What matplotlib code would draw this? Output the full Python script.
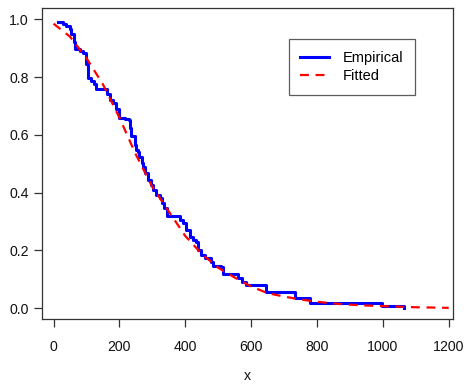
import matplotlib
matplotlib.use("Agg")
import matplotlib.pyplot as plt

plt.rcParams['font.family'] = ['Liberation Sans', 'DejaVu Sans']

# empirical survival (step function, value holds from each time on)
emp_x = [13, 28, 38, 51, 54, 62, 64, 79, 89, 99, 104, 115, 122, 130, 163, 170,
         180, 190, 200, 216, 228, 231, 236, 246, 251, 256, 261, 268, 271, 277,
         287, 297, 302, 312, 322, 328, 335, 345, 383, 393, 403, 413, 423, 434,
         439, 449, 459, 479, 484, 510, 515, 560, 573, 586, 646, 733, 778, 999,
         1064]
emp_y = [0.99, 0.985, 0.977, 0.968, 0.948, 0.921, 0.896, 0.89, 0.884, 0.844,
         0.797, 0.786, 0.775, 0.76, 0.74, 0.722, 0.71, 0.688, 0.66, 0.655, 0.65,
         0.624, 0.595, 0.566, 0.549, 0.54, 0.525, 0.502, 0.49, 0.468, 0.444,
         0.427, 0.41, 0.392, 0.381, 0.365, 0.345, 0.318, 0.306, 0.294, 0.271,
         0.248, 0.236, 0.23, 0.2, 0.184, 0.172, 0.161, 0.146, 0.143, 0.118,
         0.103, 0.091, 0.08, 0.055, 0.035, 0.018, 0.009, 0.0]

# fitted curve
fit_x = [0, 50, 100, 150, 200, 250, 300, 350, 400, 450, 500, 550, 600, 650,
         700, 750, 800, 850, 900, 950, 1000, 1050, 1100, 1150, 1200]
fit_y = [0.985, 0.94, 0.866, 0.775, 0.66, 0.532, 0.42, 0.335, 0.25, 0.188,
         0.14, 0.106, 0.075, 0.052, 0.04, 0.03, 0.022, 0.016, 0.012, 0.009,
         0.007, 0.005, 0.003, 0.002, 0.001]

x_ticks = [0, 200, 400, 600, 800, 1000, 1200]
y_ticks = [0.0, 0.2, 0.4, 0.6, 0.8, 1.0]

fig = plt.figure(figsize=(4.74, 3.84), dpi=100)
ax = fig.add_axes([0.0886, 0.169, 0.867, 0.81])

ax.plot(emp_x, emp_y, drawstyle='steps-post', color='#0000FF', lw=2.2,
        label='Empirical', zorder=2)
ax.plot(fit_x, fit_y, color='#FF0000', lw=1.6, dashes=(4, 3),
        label='Fitted', zorder=3)

ax.set_xlim(-35, 1213)
ax.set_ylim(-0.038, 1.039)
ax.set_xticks(x_ticks)
ax.set_yticks(y_ticks)
ax.set_yticklabels(['%.1f' % v for v in y_ticks])
ax.tick_params(direction='out', length=6, width=0.9, labelsize=10.2,
               color='#333333', labelcolor='#111111')
ax.tick_params(axis='x', pad=9)
for s in ax.spines.values():
    s.set_linewidth(0.9)
    s.set_color('#333333')
fig.text(0.521, 1 - 376 / 384, 'x', fontsize=10.2, ha='center', va='center',
         color='#111111')

leg = ax.legend(loc='upper left', bbox_to_anchor=(0.6, 0.9), fontsize=10.5,
                frameon=True, fancybox=False, handlelength=2.0,
                borderpad=0.8, labelspacing=0.3, handletextpad=0.9,
                borderaxespad=0)
leg.get_frame().set_edgecolor('#333333')
leg.get_frame().set_linewidth(0.9)

fig.savefig('out.png', dpi=100)
